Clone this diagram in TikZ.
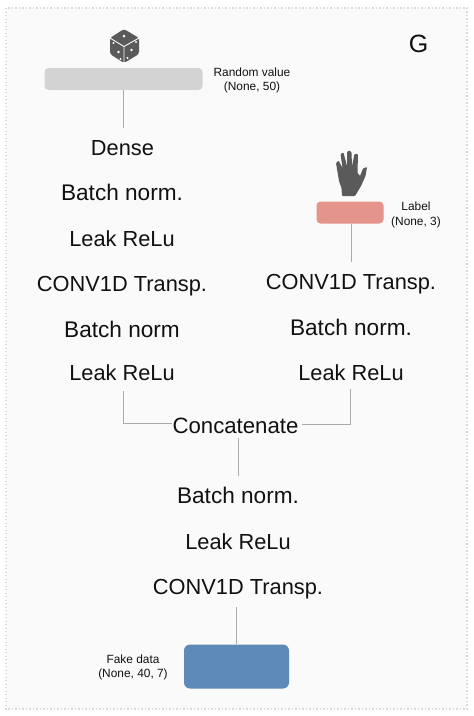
\documentclass[tikz,border=0pt]{standalone}
\usepackage{fontspec}
\setmainfont{Liberation Sans}
\definecolor{panel}{HTML}{FAFAFA}
\definecolor{dotc}{HTML}{DADADA}
\definecolor{lin}{HTML}{ABABAB}
\definecolor{icon}{HTML}{5A5A5A}
\definecolor{grayb}{HTML}{D3D3D3}
\definecolor{redb}{HTML}{E5948B}
\definecolor{blueb}{HTML}{5D8AB8}
\definecolor{txt}{HTML}{111111}
\tikzset{
 layer/.style={inner sep=0pt,minimum height=40pt,text height=16pt,text depth=2pt,font=\fontsize{21.8}{24}\selectfont,text=txt},
 normlayer/.style={layer,font=\fontsize{22.6}{24}\selectfont},
 midlayer/.style={layer,minimum height=24pt,font=\fontsize{22.2}{24}\selectfont},
 smalltxt/.style={inner sep=0pt,align=center,font=\fontsize{11.9}{14.6}\selectfont,text=txt},
 conn/.style={draw=lin,line width=1pt},
 box/.style={rounded corners=4pt,inner sep=0pt},
}
\begin{document}
\begin{tikzpicture}[x=1pt,y=-1pt]
\useasboundingbox (0,0) rectangle (474,716);
\fill[white] (0,0) rectangle (474,716);
\draw[dotc,fill=panel,line width=1.3pt,dash pattern=on 1.3pt off 2.2pt] (6,8) rectangle (467,709);
% boxes
\node[box,fill=grayb,minimum width=158pt,minimum height=22pt] (rand) at (123.5,79) {};
\node[box,fill=redb,minimum width=67pt,minimum height=22pt] (lab) at (350,212.5) {};
\node[box,fill=blueb,minimum width=105pt,minimum height=44pt,rounded corners=6pt] (fake) at (236.5,666.5) {};
% labels
\node[font=\fontsize{25}{27}\selectfont,inner sep=0pt,text=txt] (g) at (418.5,43.5) {G};
\node[smalltxt] (randt) at (252,80.5) {Random value\\(None, 50)};
\node[smalltxt] (labt) at (416,215) {Label\\(None, 3)};
\node[smalltxt] (faket) at (133,667.5) {Fake data\\(None, 40, 7)};
% left column
\node[layer] (a1) at (122.5,148) {Dense};
\node[normlayer] (a2) at (122,193) {Batch norm.};
\node[layer] (a3) at (122,239) {Leak ReLu};
\node[layer] (a4) at (122,284) {CONV1D Transp.};
\node[normlayer] (a5) at (122,330) {Batch norm};
\node[layer] (a6) at (122,373) {Leak ReLu};
% right column
\node[layer] (b1) at (351,282.5) {CONV1D Transp.};
\node[normlayer] (b2) at (351,328) {Batch norm.};
\node[layer] (b3) at (351,373) {Leak ReLu};
% bottom column
\node[midlayer] (c) at (235.5,426) {Concatenate};
\node[normlayer] (d1) at (238,496) {Batch norm.};
\node[layer] (d2) at (238,542) {Leak ReLu};
\node[layer] (d3) at (238,587) {CONV1D Transp.};
% connectors
\draw[conn] (rand.south) -- (rand.south |- a1.north);
\draw[conn] ([xshift=1.5pt]lab.south) -- ([xshift=1.5pt]lab.south |- b1.north);
\draw[conn,shorten <=-2pt] ([xshift=1pt]a6.south) -- ([xshift=1pt,yshift=2.5pt]a6.south |- c.west) -- ([yshift=2.5pt]c.west);
\draw[conn,shorten <=-4pt] ([xshift=-1pt]b3.south) -- ([xshift=-1pt,yshift=2pt]b3.south |- c.east) -- ([xshift=3pt,yshift=2pt]c.east);
\draw[conn] ([xshift=2.5pt]c.south) -- ([xshift=2.5pt]c.south |- d1.north);
\draw[conn] (d3.south -| fake.north) -- (fake.north);
% die
\fill[icon,rounded corners=2.5pt] (124,29) -- (139,38) -- (139,54) -- (124,63) -- (110,54) -- (110,38) -- cycle;
\draw[panel,line width=.9pt] (110,38) -- (124,46.5) -- (139,38) (124,46.5) -- (124,63);
\foreach \x/\y/\r in {124/36/1.5,113.5/43/1.1,118.5/52/1.3,120.5/59/1.1,136/42/1.2,131.5/50/1.4,127.5/58/1.2}
  \fill[panel] (\x,\y) circle (\r pt);
% hand
\fill[icon,rounded corners=.8pt] (342,196) -- (341.5,188) -- (339,181) -- (336,163) -- (338.5,160.5) -- (342.5,168)
 -- (340.5,154) -- (343.5,152.5) -- (347,166) -- (347,152) -- (349,150.5) -- (351.5,152) -- (352,166)
 -- (354.5,154) -- (358,154) -- (357.5,173) -- (360,176) -- (363,168.5) -- (367,167) -- (365.5,176) -- (361,186) -- (355,196) -- cycle;
\end{tikzpicture}
\end{document}
